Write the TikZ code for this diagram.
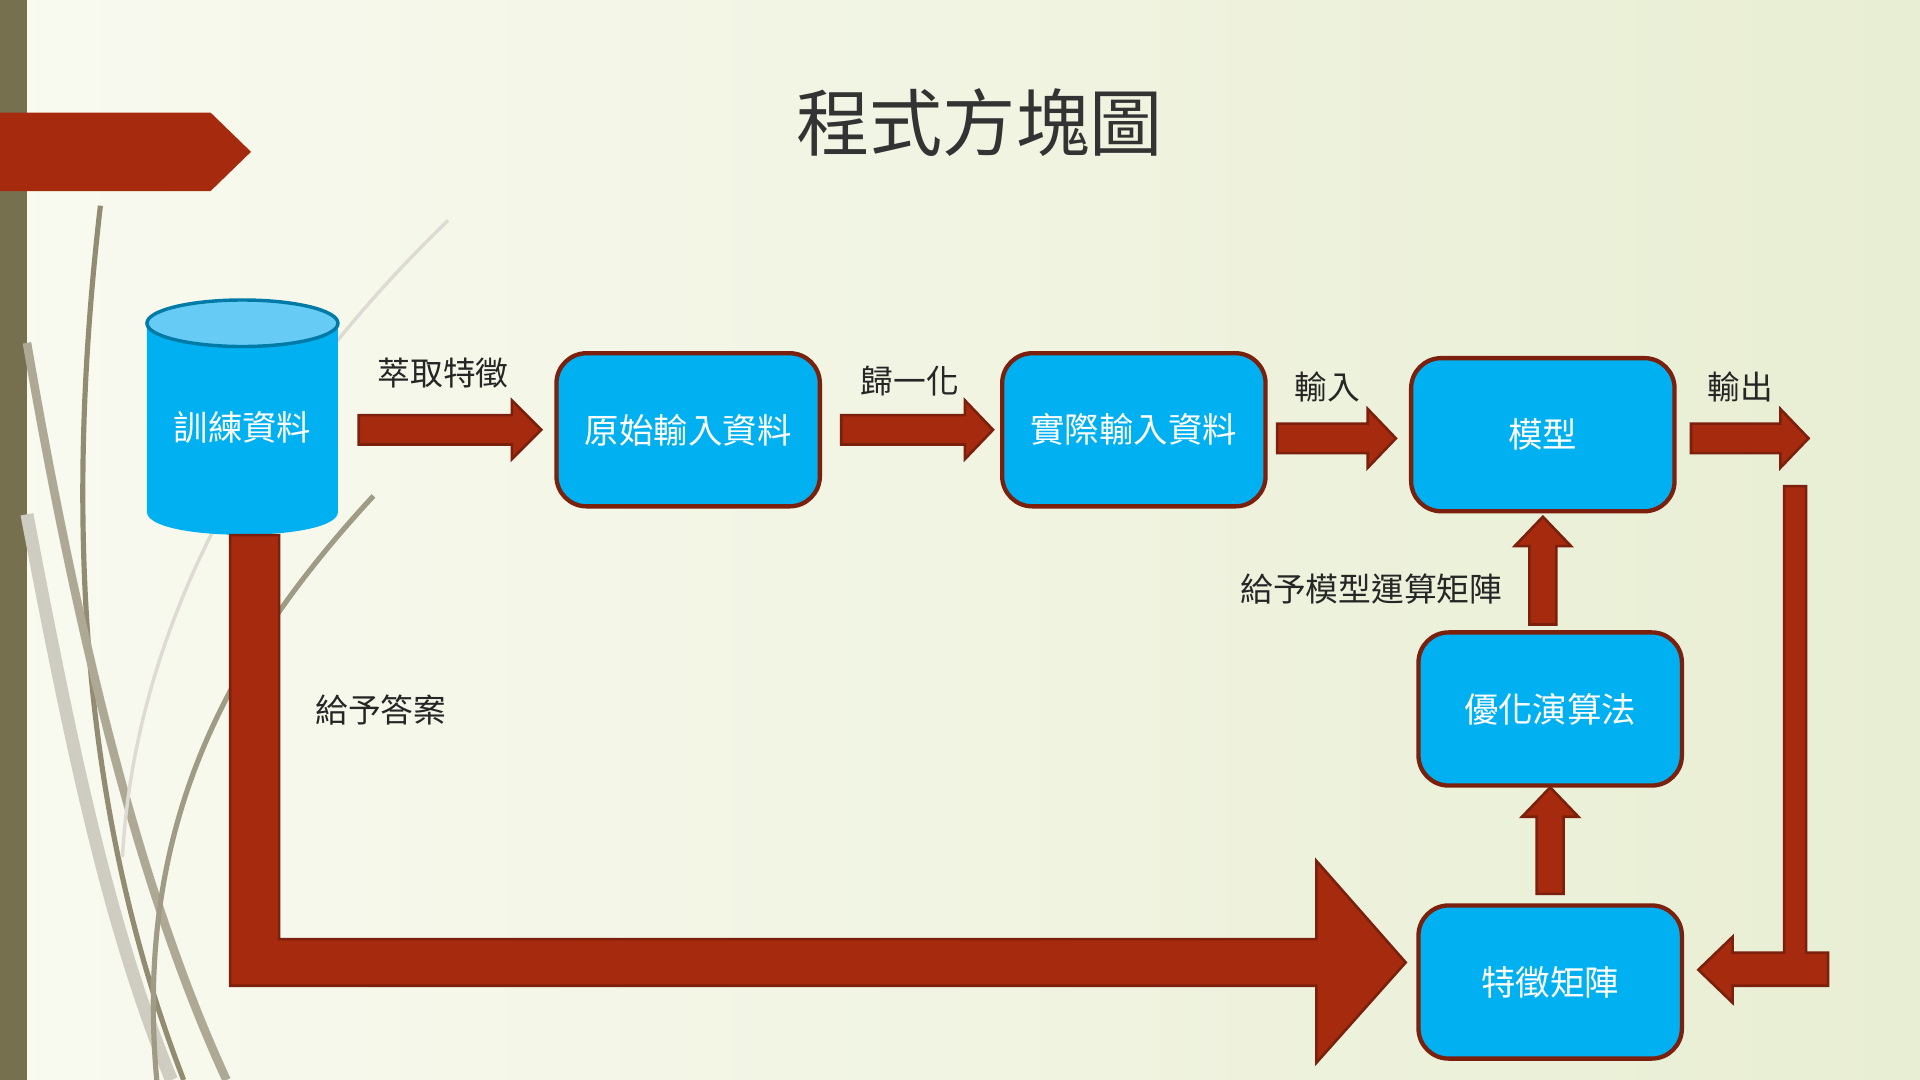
\documentclass[tikz,border=0pt]{standalone}
\usepackage{fontspec}
\setmainfont{Noto Sans CJK TC}
\usetikzlibrary{shapes.geometric}
\definecolor{bx}{HTML}{00B0F0}
\definecolor{bxt}{HTML}{66CCF5}
\definecolor{rd}{HTML}{A52A0E}
\definecolor{rdb}{HTML}{7A200C}
\definecolor{olive}{HTML}{77704F}
\definecolor{bgA}{HTML}{F9FAF0}
\definecolor{bgB}{HTML}{E8EED3}
\begin{document}
\begin{tikzpicture}[x=0.01cm,y=-0.01cm,
 box/.style={draw=rdb,line width=1pt,fill=bx,rounded corners=7pt,minimum width=2.15cm,minimum height=1.25cm,text=white,font=\fontsize{8}{9}\selectfont,inner sep=0pt},
 blk/.style={fill=rd,draw=rdb,line width=0.6pt},
 lbl/.style={font=\fontsize{7.6}{9}\selectfont,text=black!85}]
\useasboundingbox (0,0) rectangle (1568,882);
\shade[left color=bgA,right color=bgB] (0,0) rectangle (1568,882);
\fill[olive] (0,0) rectangle (22,882);
% decorative curves
\begin{scope}[line width=1.2pt]
\draw[olive!80] (82,168) .. controls (55,400) and (60,650) .. (150,882);
\draw[olive!60,line width=2pt] (22,280) .. controls (60,500) and (110,720) .. (185,882);
\draw[olive!35,line width=3pt] (22,420) .. controls (60,620) and (90,760) .. (140,882);
\draw[olive!70] (305,405) .. controls (180,540) and (110,680) .. (128,882);
\draw[olive!25,line width=0.8pt] (366,180) .. controls (200,340) and (110,520) .. (100,700);
\end{scope}
\fill[rd] (0,92) -- (172,92) -- (205,124) -- (172,156) -- (0,156) -- cycle;
\node[font=\fontsize{17}{20}\selectfont,text=black!80] (title) at (800,100) {程式方塊圖};
% cylinder
\fill[bx] (120,264) -- (120,418) .. controls (120,443) and (276,443) .. (276,418) -- (276,264) -- cycle;
\fill[bxt,draw=bx!70!black,line width=0.8pt] (198,264) ellipse[x radius=78,y radius=19];
\node[text=white,font=\fontsize{8}{9}\selectfont] (db) at (198,349) {訓練資料};
% boxes
\node[box] (b1) at (562,351) {原始輸入資料};
\node[box] (b2) at (926,351) {實際輸入資料};
\node[box] (b3) at (1260,355) {模型};
\node[box] (b4) at (1266,579) {優化演算法};
\node[box] (b5) at (1266,802) {特徵矩陣};
% right arrows
\draw[blk] (293,339) -- (418,339) -- (418,327) -- (442,351) -- (418,375) -- (418,363) -- (293,363) -- cycle;
\draw[blk] (687,339) -- (788,339) -- (788,327) -- (811,351) -- (788,375) -- (788,363) -- (687,363) -- cycle;
\draw[blk] (1043,346) -- (1117,346) -- (1117,334) -- (1140,358) -- (1117,382) -- (1117,370) -- (1043,370) -- cycle;
\draw[blk] (1381,346) -- (1454,346) -- (1454,334) -- (1477,358) -- (1454,382) -- (1454,370) -- (1381,370) -- cycle;
% up arrows
\draw[blk] (1249,510) -- (1249,446) -- (1237,446) -- (1260,422) -- (1283,446) -- (1271,446) -- (1271,510) -- cycle;
\draw[blk] (1255,730) -- (1255,667) -- (1243,667) -- (1266,643) -- (1289,667) -- (1277,667) -- (1277,730) -- cycle;
% big L arrow
\draw[blk] (188,437) -- (228,437) -- (228,767) -- (1075,767) -- (1075,703) -- (1148,786) -- (1075,868) -- (1075,805) -- (188,805) -- cycle;
% right L arrow
\draw[blk] (1457,397) -- (1475,397) -- (1475,778) -- (1493,778) -- (1493,805) -- (1415,805) -- (1415,819) -- (1387,792) -- (1415,765) -- (1415,778) -- (1457,778) -- cycle;
% labels
\node[lbl] (l1) at (362,305) {萃取特徵};
\node[lbl] (l2) at (743,311) {歸一化};
\node[lbl] (l3) at (1084,316) {輸入};
\node[lbl] (l4) at (1421,316) {輸出};
\node[lbl] (l5) at (1120,481) {給予模型運算矩陣};
\node[lbl] (l6) at (311,580) {給予答案};
\end{tikzpicture}
\end{document}
